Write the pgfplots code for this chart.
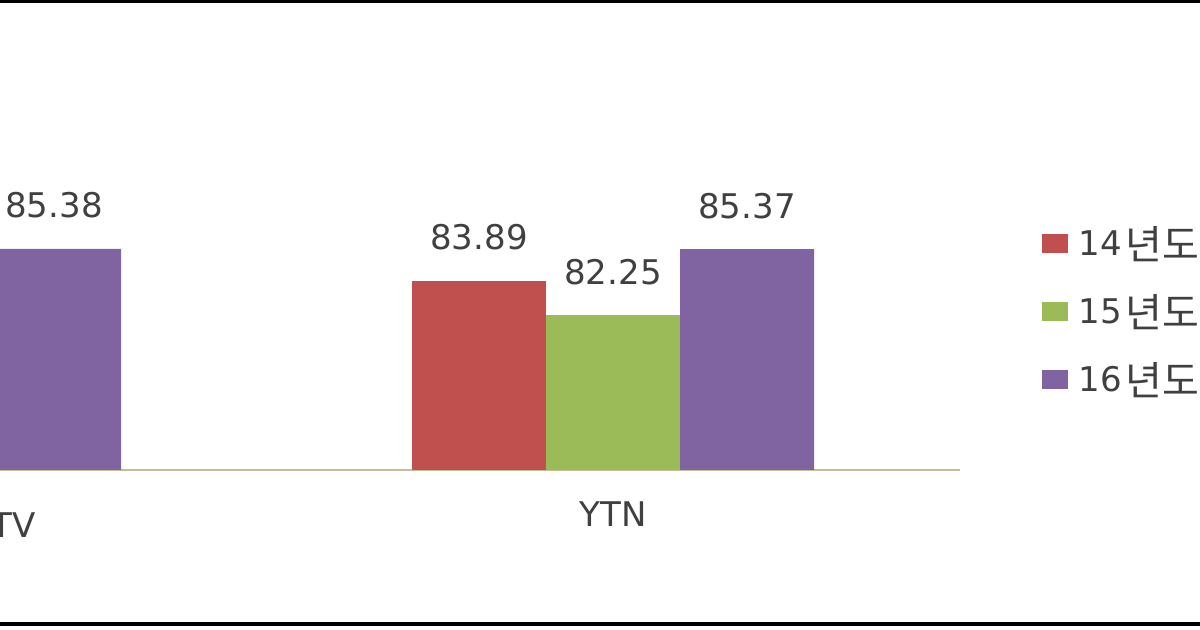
\documentclass[border=0pt]{standalone}
\usepackage{fontspec}
\setmainfont{DejaVu Sans}
\newfontfamily\kr{Noto Sans CJK KR}
\usepackage{pgfplots}
\pgfplotsset{compat=1.18}

\definecolor{bred}{HTML}{C0504D}
\definecolor{bgreen}{HTML}{9BBB59}
\definecolor{bpurple}{HTML}{8064A2}
\definecolor{axtan}{HTML}{C4BD97}
\definecolor{txt}{HTML}{404040}

% legend year label: digits in DejaVu, hangul a bit larger
\newcommand{\yr}[1]{#1\kern1.5pt{\fontsize{20}{20}\selectfont\kr\raisebox{-2pt}{년도}}}

\begin{document}
\begin{tikzpicture}
\path[use as bounding box] (0,0) rectangle (600pt,315pt);
\begin{scope}
\clip (0,0) rectangle (600pt,315pt);
\begin{axis}[
    at={(-213.25pt,80pt)}, anchor=south west,
    scale only axis,
    width=693pt, height=213.1pt,
    xmin=-0.5, xmax=1.5,
    ymin=75, ymax=95,
    axis x line*=bottom,
    axis y line=none,
    x axis line style={draw=axtan, line width=1.4pt},
    major tick length=0pt,
    ytick=\empty,
    xtick={0,1},
    xticklabels={{\raisebox{-5.5pt}{\makebox[115.5pt][r]{{\kr 연합뉴스}TV}}}, YTN},
    xticklabel style={font=\fontsize{17}{20}\selectfont, text=txt,
        inner sep=0pt, anchor=base, yshift=-28.5pt},
    ybar=0pt, bar width=67pt,
    nodes near coords={\pgfmathprintnumber[fixed,fixed zerofill,precision=2,assume math mode=true]{\pgfplotspointmeta}},
    every node near coord/.append style={font=\fontsize{17}{20}\selectfont,
        text=txt, inner sep=0pt, anchor=south, yshift=15pt},
    legend image code/.code={\fill[#1, draw=none] (0pt,-4.75pt) rectangle (12.8pt,4.75pt);},
    legend style={draw=none, fill=none, inner sep=0pt,
        at={(axis description cs:1.0595,0.373)}, anchor=west,
        font=\fontsize{17}{20}\selectfont, text=txt,
        nodes={inner sep=0pt, text height=14pt, text depth=1.6pt},
        row sep=18.4pt,
        /tikz/every odd column/.append style={column sep=5.5pt}},
    legend cell align=left,
]
\addplot[fill=bred, draw=none] coordinates {(1,83.89)};
\addlegendentry{\yr{14}}
\addplot[fill=bgreen, draw=none] coordinates {(1,82.25)};
\addlegendentry{\yr{15}}
\addplot[fill=bpurple, draw=none] coordinates {(0,85.38) (1,85.37)};
\addlegendentry{\yr{16}}
\end{axis}
\end{scope}
\fill[black] (0,313.5pt) rectangle (600pt,315pt);
\fill[black] (0,1.75pt) rectangle (600pt,4pt);
\end{tikzpicture}
\end{document}
